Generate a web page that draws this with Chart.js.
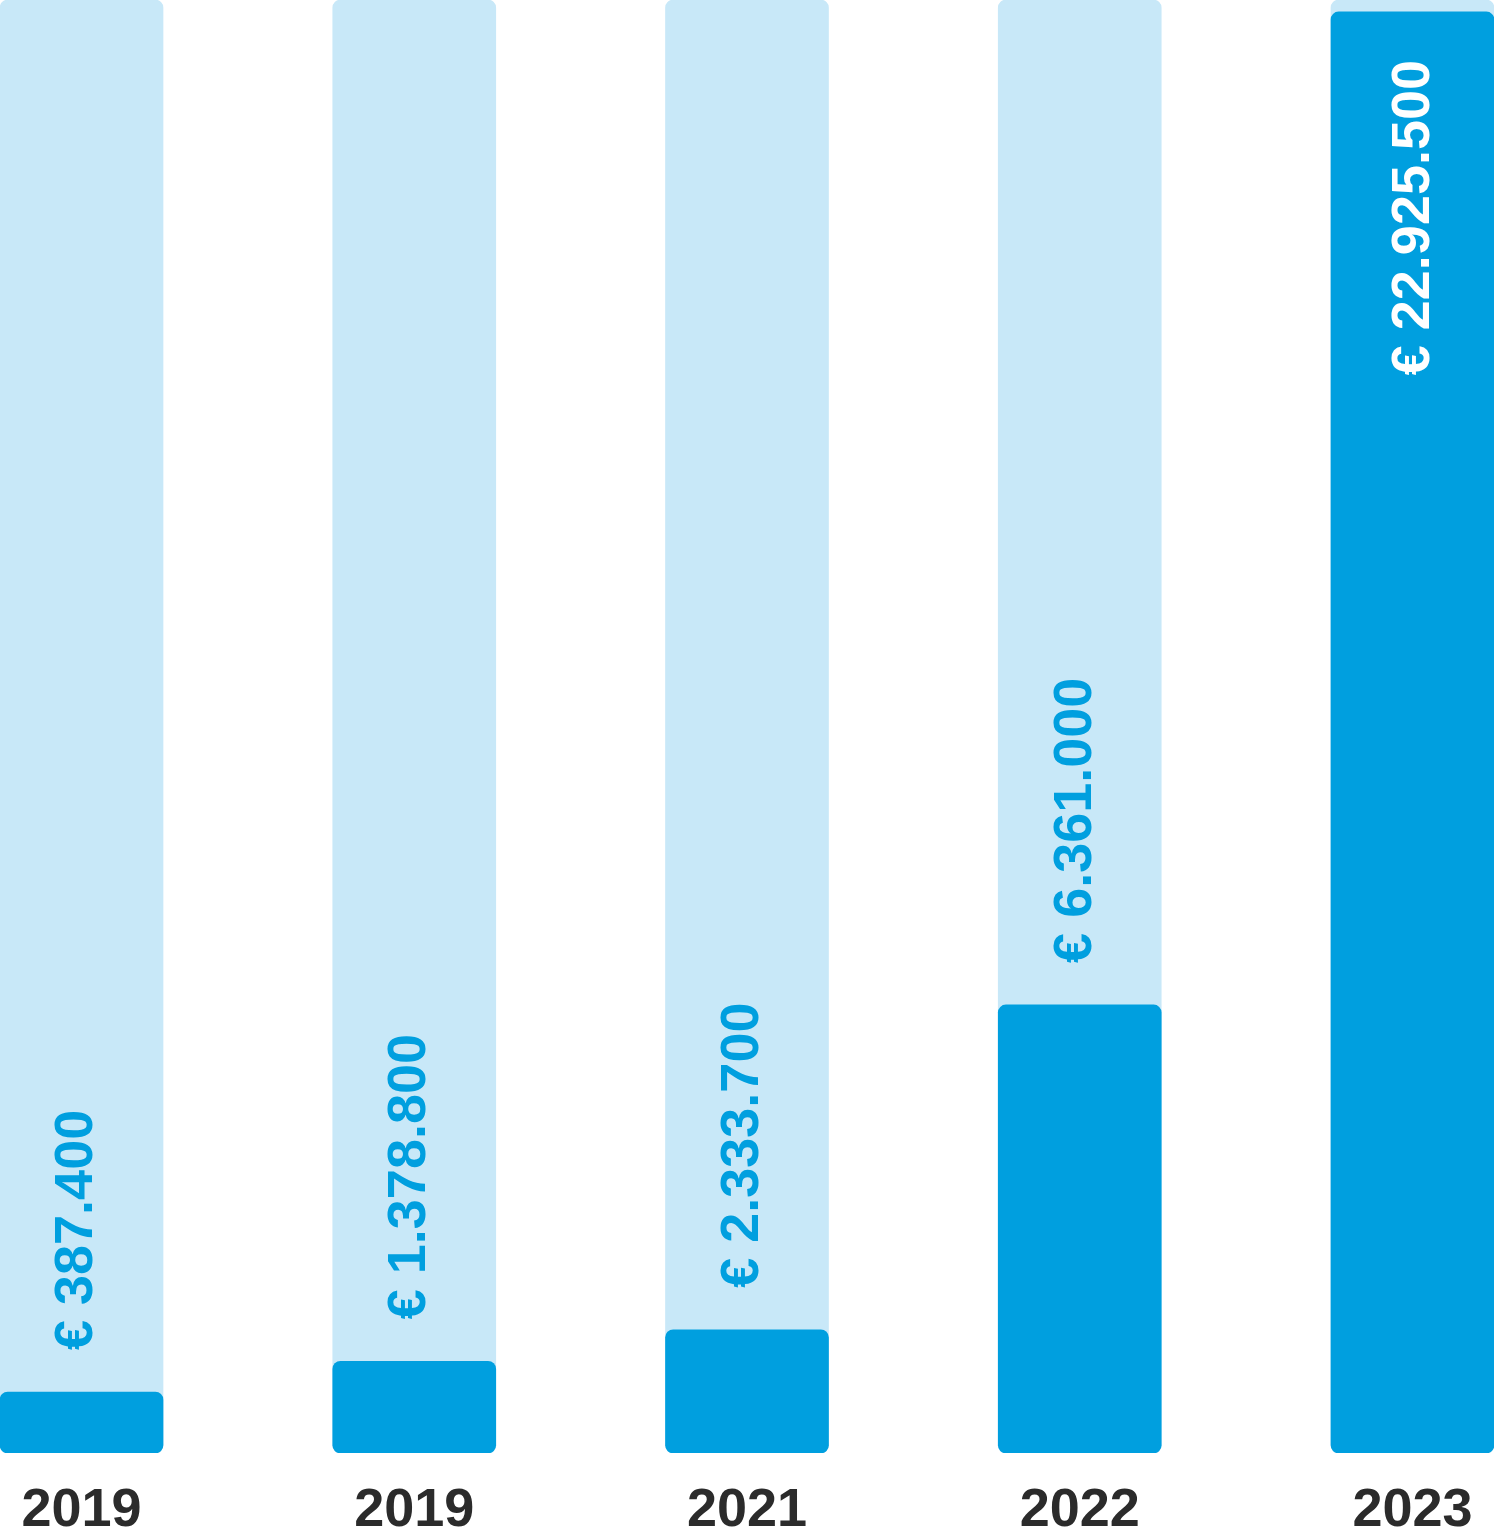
<!DOCTYPE html>
<html>
<head>
<meta charset="utf-8">
<script src="https://cdn.jsdelivr.net/npm/chart.js@4/dist/chart.umd.min.js"></script>
<style>
    html, body { margin: 0; padding: 0; background: #ffffff; }
    #wrap { width: 1494px; height: 1530px; }
</style>
</head>
<body>
<div id="wrap"><canvas id="funds-graph" width="1494" height="1530"></canvas></div>
<script>
// years as printed under the bars (the picture shows 2019 twice)
const years = ['2019', '2019', '2021', '2022', '2023'];
// amounts printed on the bars, in euro
const amounts = [387400, 1378800, 2333700, 6361000, 22925500];
// bar lengths as drawn in the picture, in millions
const barLengths = [0.97, 1.46, 1.96, 7.13, 22.93];
// top of the light track, in millions
const trackTop = 23.12;

function euro(v) {
    return '€ ' + String(v).replace(/\B(?=(\d{3})+(?!\d))/g, '.');
}

const dark = '#009fdf';
const light = '#c8e8f8';

const valueLabels = {
    id: 'valueLabels',
    afterDatasetsDraw(chart) {
        const ctx = chart.ctx;
        const meta = chart.getDatasetMeta(0);
        ctx.save();
        ctx.font = 'bold 54px "Liberation Sans", Arial, sans-serif';
        ctx.textBaseline = 'middle';
        meta.data.forEach(function (bar, i) {
            const text = euro(amounts[i]);
            const w = ctx.measureText(text).width;
            ctx.save();
            ctx.translate(bar.x, 0);
            ctx.rotate(-Math.PI / 2);
            if (bar.y - 42 - w < chart.chartArea.top) {
                // no room above: put it inside, near the top
                ctx.fillStyle = '#ffffff';
                ctx.textAlign = 'right';
                ctx.fillText(text, -(bar.y + 48), 2);
            } else {
                ctx.fillStyle = dark;
                ctx.textAlign = 'left';
                ctx.fillText(text, -(bar.y - 42), -4);
            }
            ctx.restore();
        });
        ctx.restore();
    }
};

new Chart(document.getElementById('funds-graph').getContext('2d'), {
    type: 'bar',
    data: {
        datasets: [
            {
                label: 'Amount',
                data: barLengths.map(function (v, i) { return {x: i, y: v}; }),
                backgroundColor: dark,
                borderRadius: 8,
                borderSkipped: false,
                barThickness: 163,
                grouped: false,
                order: 1
            },
            {
                label: 'Track',
                data: barLengths.map(function (v, i) { return {x: i, y: trackTop}; }),
                backgroundColor: light,
                borderRadius: 8,
                borderSkipped: false,
                barThickness: 163,
                grouped: false,
                order: 2
            }
        ]
    },
    options: {
        responsive: false,
        animation: false,
        layout: { padding: 0 },
        scales: {
            x: {
                type: 'linear',
                offset: false,
                min: -0.245,
                max: 4.245,
                grid: { display: false, drawTicks: false },
                border: { display: false },
                afterBuildTicks: function (scale) {
                    scale.ticks = years.map(function (y, i) { return {value: i}; });
                },
                afterFit: function (scale) {
                    scale.height = 77;
                },
                ticks: {
                    autoSkip: false,
                    maxRotation: 0,
                    padding: 10,
                    color: '#2b2b2b',
                    font: { family: '"Liberation Sans", Arial, sans-serif', size: 54, weight: 'bold', lineHeight: 1.78 },
                    callback: function (value, index) { return years[index]; }
                }
            },
            y: {
                display: false,
                min: 0,
                max: trackTop
            }
        },
        plugins: {
            legend: { display: false },
            tooltip: { enabled: false }
        }
    },
    plugins: [valueLabels]
});
</script>
</body>
</html>
